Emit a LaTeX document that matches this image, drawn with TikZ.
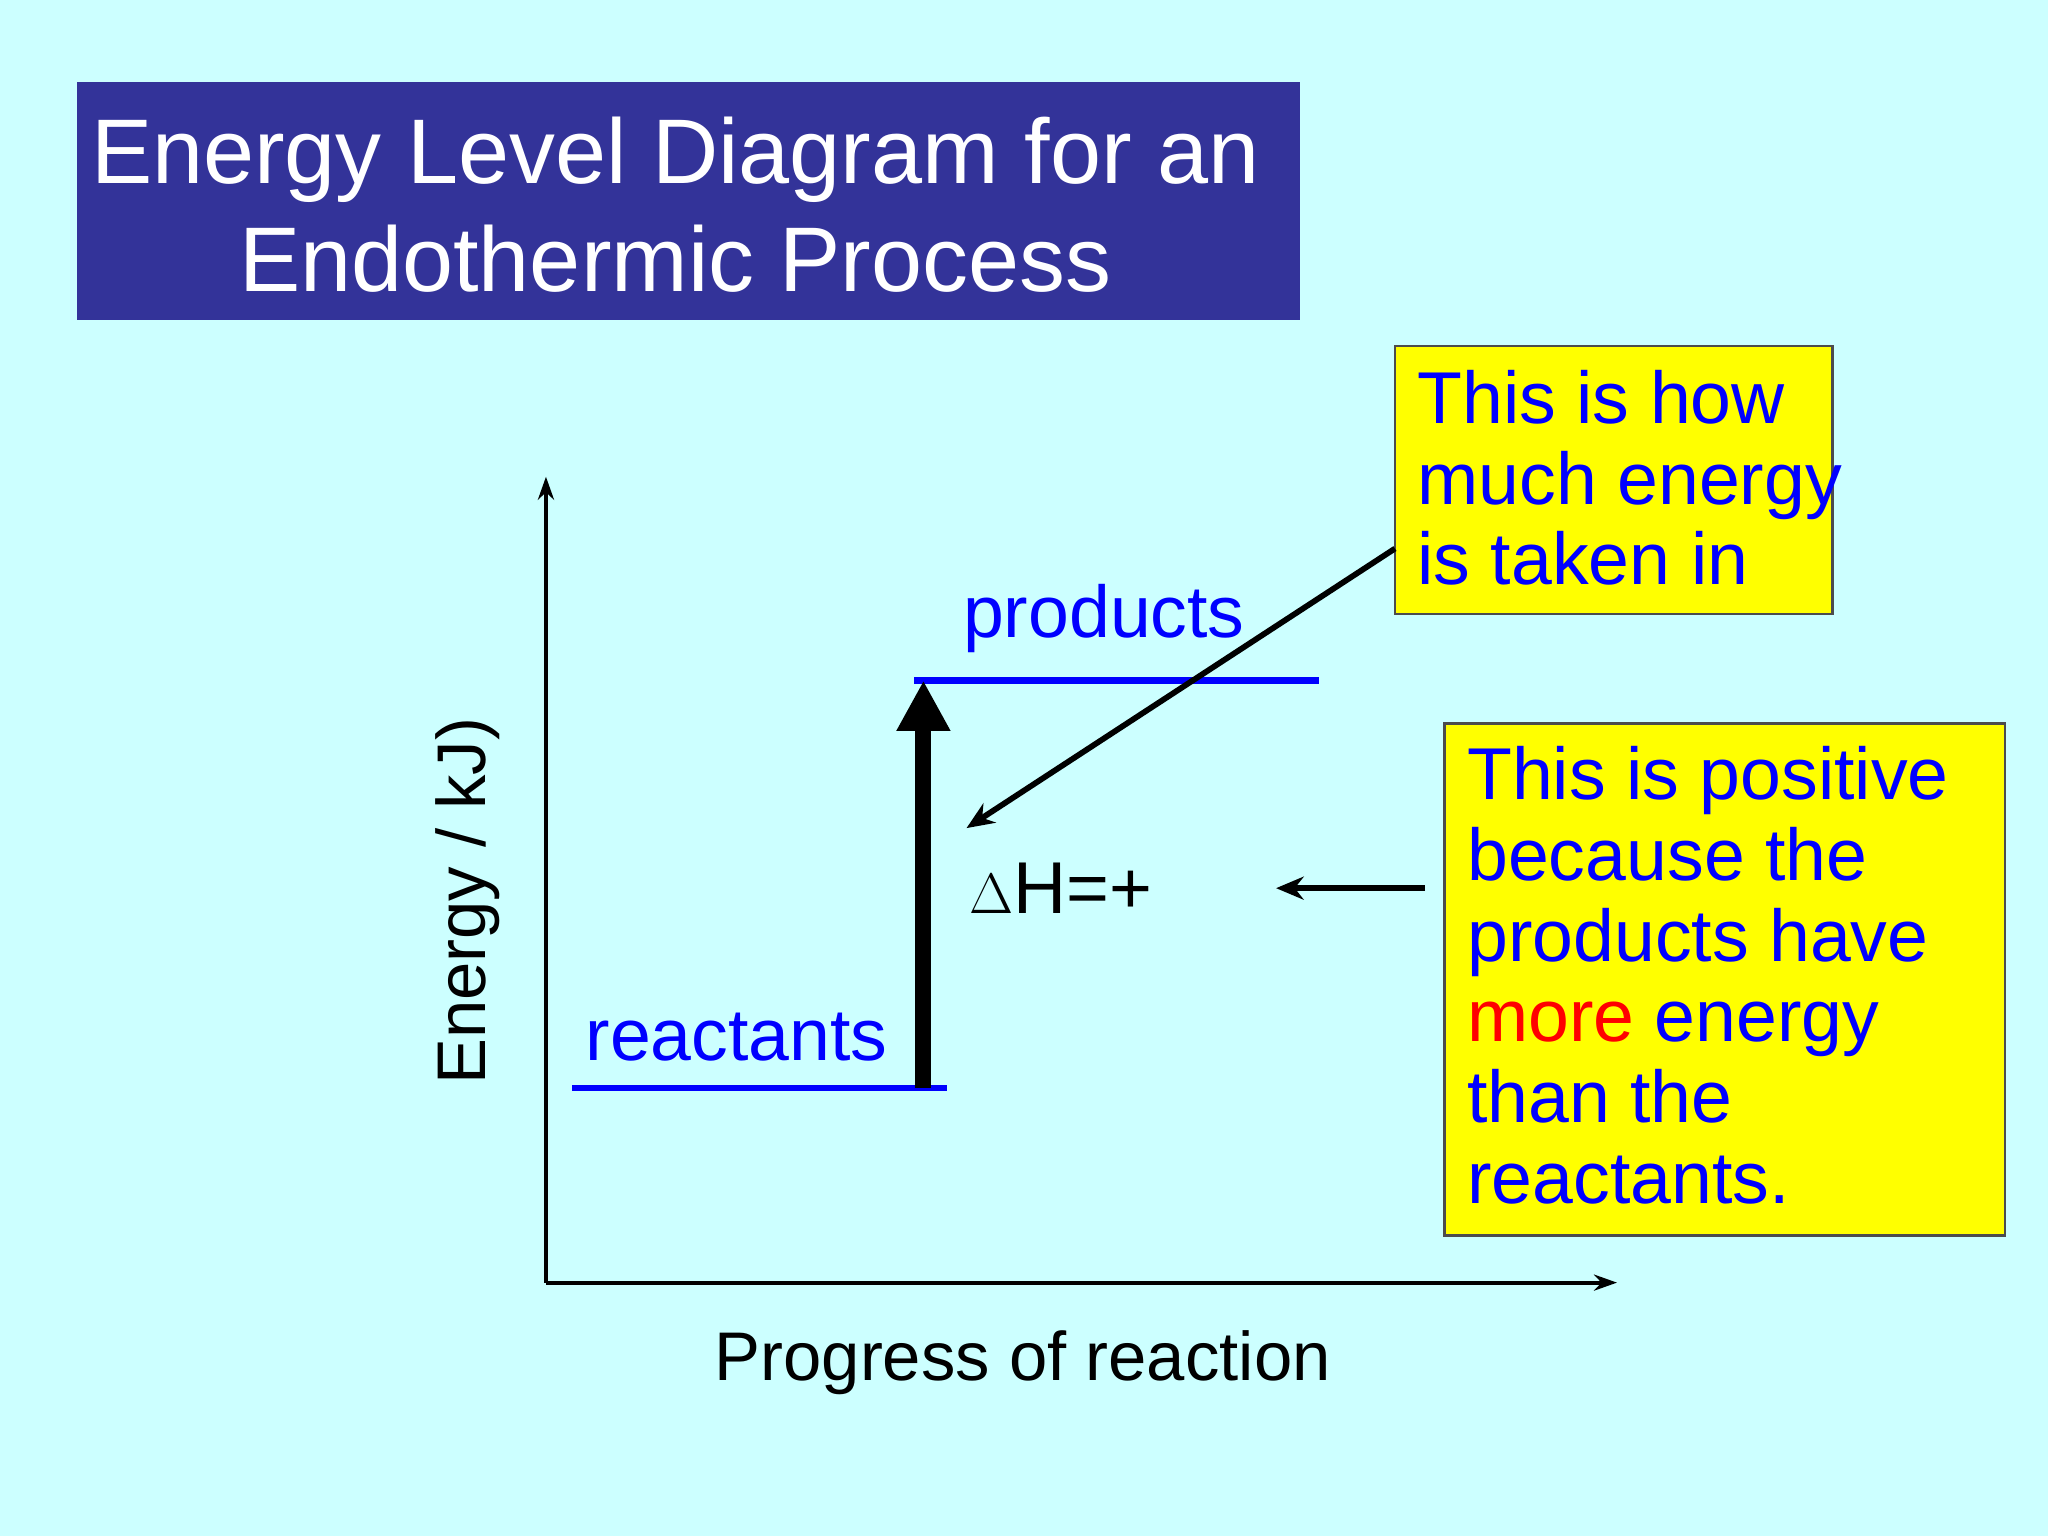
\documentclass[tikz,border=0pt]{standalone}
\usepackage{fontspec}
\setmainfont{Liberation Sans}
\usetikzlibrary{arrows.meta}
\definecolor{bg}{HTML}{CCFFFF}
\definecolor{titleblue}{HTML}{333399}
\definecolor{tblue}{HTML}{0000FF}
\definecolor{tyellow}{HTML}{FFFF00}
\begin{document}
\begin{tikzpicture}[x=0.02cm,y=-0.02cm,
  ybox/.style={draw=black!70,line width=1pt,fill=tyellow},
  btxt/.style={anchor=north west,align=left,inner sep=0pt,text=tblue,font=\fontsize{32}{35.2}\selectfont},
  level/.style={draw=tblue,line width=2.8pt},
  lbl/.style={text=tblue,font=\fontsize{32}{36}\selectfont,inner sep=0pt}]
\fill[bg] (0,0) rectangle (1568,1176);
\useasboundingbox (0,0) rectangle (1568,1176);
% title
\fill[titleblue] (59,63) rectangle (995,245);
\node[text=white,align=center,font=\fontsize{40}{47}\selectfont] (title) at (517,157) {Energy Level Diagram for an\\Endothermic Process};
% axes
\coordinate (o) at (418,982);
\coordinate (ytop) at (418,365);
\coordinate (xend) at (1238,982);
\draw[line width=1.8pt,-{Stealth[length=10pt,width=7pt]}] (o) -- (ytop);
\draw[line width=1.8pt,-{Stealth[length=10pt,width=7pt]}] (o) -- (xend);
\node[rotate=90,font=\fontsize{30}{36}\selectfont] (ylab) at (358,690) {Energy / kJ)};
\node[font=\fontsize{30}{36}\selectfont] (xlab) at (783,1043) {Progress of reaction};
% levels
\coordinate (r1) at (438,833); \coordinate (r2) at (725,833);
\coordinate (p1) at (700,521); \coordinate (p2) at (1010,521);
\draw[level] (r1) -- (r2);
\draw[level] (p1) -- (p2);
\node[lbl,anchor=base west] (reac) at (448,812) {reactants};
\node[lbl,anchor=base west] (prod) at (737,488) {products};
% delta H arrow
\coordinate (a1) at (707,833); \coordinate (a2) at (707,521);
\draw[line width=7pt,-{Triangle[length=22pt,width=22pt]}] (a1) -- (a2);
\node[anchor=west,inner sep=0pt,font=\fontsize{32}{36}\selectfont] (dh) at (742,680) {$\Delta$H=+};
% boxes
\draw[ybox] (1068,265) rectangle (1403,470);
\node[btxt] (t1) at (1085,283) {This is how\\much energy\\is taken in};
\draw[ybox] (1106,554) rectangle (1535,946);
\node[btxt] (t2) at (1123,571) {This is positive\\because the\\products have\\\textcolor{red}{more} energy\\than the\\reactants.};
% callouts
\coordinate (c1) at (1068,420); \coordinate (c1e) at (740,634);
\draw[line width=2.5pt,-{Stealth[length=12pt,width=10pt]}] (c1) -- (c1e);
\coordinate (c2) at (1091,680); \coordinate (c2e) at (977,680);
\draw[line width=2.5pt,-{Stealth[length=12pt,width=10pt]}] (c2) -- (c2e);
\end{tikzpicture}
\end{document}
